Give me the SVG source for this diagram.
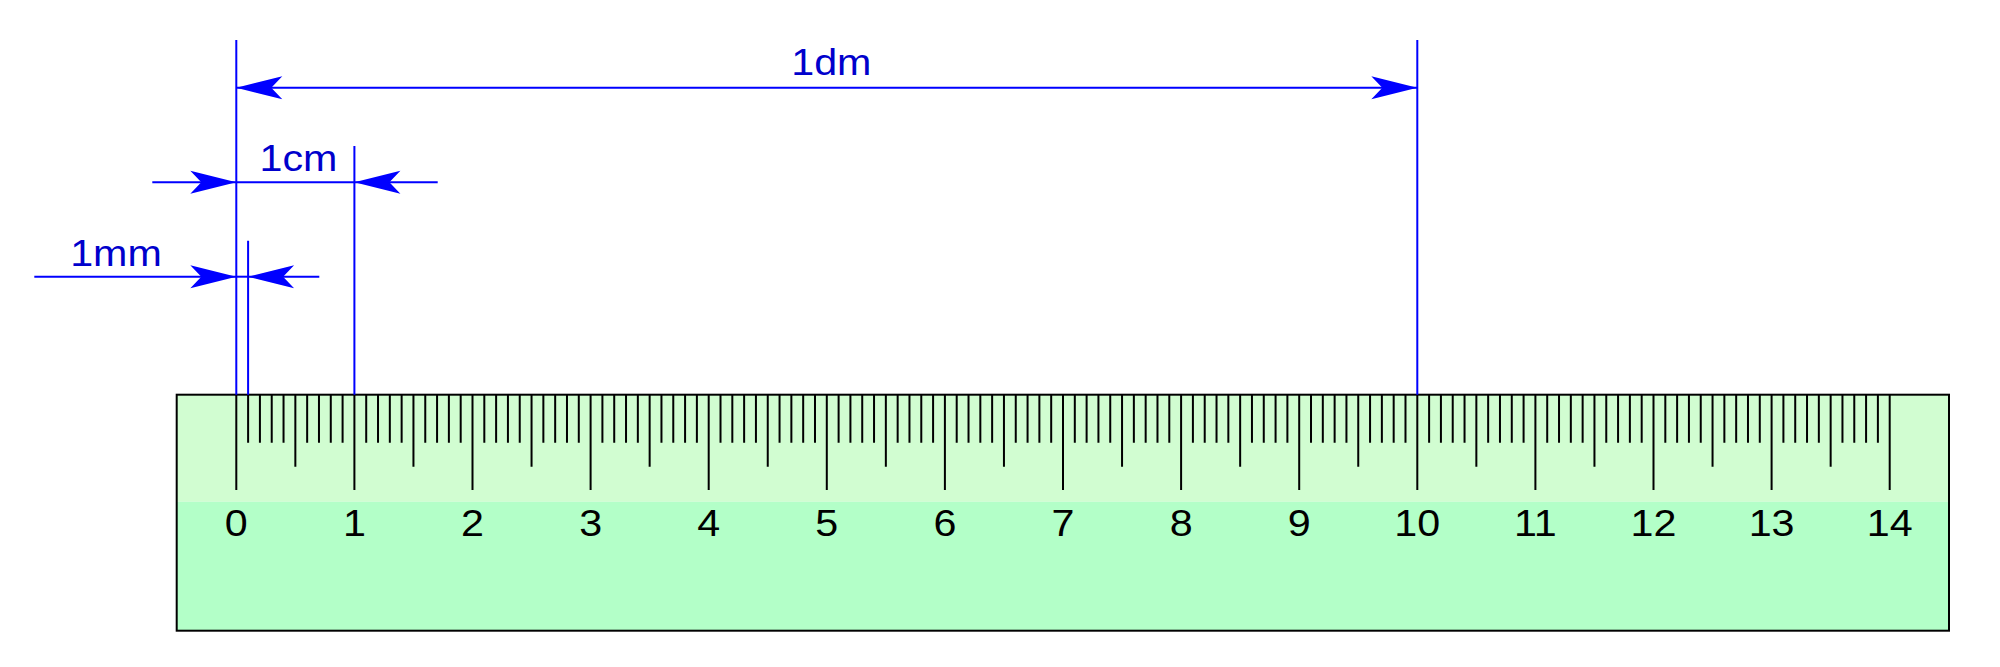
<svg xmlns="http://www.w3.org/2000/svg" xmlns:xlink="http://www.w3.org/1999/xlink" width="2000" height="667" viewBox="0 0 2000 667">
  <style>
    .tick { stroke: #000; stroke-width: 2; fill: none; }
    .num { font-family: "Liberation Sans", Arial, sans-serif; font-size: 37.5px; fill: #000; text-anchor: middle; }
    .dimtext { font-family: "Liberation Sans", Arial, sans-serif; font-size: 37.5px; fill: #0000cc; text-anchor: middle; }
    .dim { stroke: #0000ff; stroke-width: 2; fill: none; }
    .arrow { stroke: #0000ff; stroke-width: 2; fill: none; marker-end: url(#ah); }
  </style>
  <defs>
    <marker id="ah" markerUnits="userSpaceOnUse" markerWidth="50" markerHeight="30" viewBox="-48 -15 50 30" refX="0" refY="0" orient="auto-start-reverse">
      <path d="M0,0 L-46,-11.5 L-35,0 L-46,11.5 Z" fill="#0000ff"/>
    </marker>
    <path id="cm" class="tick" d="M11.81 394.7V442.7M23.62 394.7V442.7M35.43 394.7V442.7M47.24 394.7V442.7M59.05 394.7V466.7M70.86 394.7V442.7M82.67 394.7V442.7M94.48 394.7V442.7M106.29 394.7V442.7"/>
  </defs>

  <g id="ruler">
    <rect x="176.7" y="394.7" width="1772.3" height="107" fill="#d1fdd1"/>
    <rect x="176.7" y="501.7" width="1772.3" height="129" fill="#b3ffc8"/>
    <rect x="176.7" y="394.7" width="1772.3" height="236" fill="none" stroke="#000" stroke-width="2"/>
    <g id="ticks">
      <path class="tick" d="M236.3 394.7V490M354.4 394.7V490M472.5 394.7V490M590.6 394.7V490M708.7 394.7V490M826.8 394.7V490M944.9 394.7V490M1063 394.7V490M1181.1 394.7V490M1299.2 394.7V490M1417.3 394.7V490M1535.4 394.7V490M1653.5 394.7V490M1771.6 394.7V490M1889.7 394.7V490"/>
      <use xlink:href="#cm" x="236.3"/>
      <use xlink:href="#cm" x="354.4"/>
      <use xlink:href="#cm" x="472.5"/>
      <use xlink:href="#cm" x="590.6"/>
      <use xlink:href="#cm" x="708.7"/>
      <use xlink:href="#cm" x="826.8"/>
      <use xlink:href="#cm" x="944.9"/>
      <use xlink:href="#cm" x="1063"/>
      <use xlink:href="#cm" x="1181.1"/>
      <use xlink:href="#cm" x="1299.2"/>
      <use xlink:href="#cm" x="1417.3"/>
      <use xlink:href="#cm" x="1535.4"/>
      <use xlink:href="#cm" x="1653.5"/>
      <use xlink:href="#cm" x="1771.6"/>
    </g>
    <g id="numbers">
      <text class="num" transform="translate(236.3,536) scale(1.1,1)">0</text>
      <text class="num" transform="translate(354.4,536) scale(1.1,1)">1</text>
      <text class="num" transform="translate(472.5,536) scale(1.1,1)">2</text>
      <text class="num" transform="translate(590.6,536) scale(1.1,1)">3</text>
      <text class="num" transform="translate(708.7,536) scale(1.1,1)">4</text>
      <text class="num" transform="translate(826.8,536) scale(1.1,1)">5</text>
      <text class="num" transform="translate(944.9,536) scale(1.1,1)">6</text>
      <text class="num" transform="translate(1063,536) scale(1.1,1)">7</text>
      <text class="num" transform="translate(1181.1,536) scale(1.1,1)">8</text>
      <text class="num" transform="translate(1299.2,536) scale(1.1,1)">9</text>
      <text class="num" transform="translate(1417.3,536) scale(1.1,1)">10</text>
      <text class="num" transform="translate(1535.4,536) scale(1.1,1)">11</text>
      <text class="num" transform="translate(1653.5,536) scale(1.1,1)">12</text>
      <text class="num" transform="translate(1771.6,536) scale(1.1,1)">13</text>
      <text class="num" transform="translate(1889.7,536) scale(1.1,1)">14</text>
    </g>
  </g>

  <g id="connectors">
    <!-- extension lines -->
    <path class="dim" d="M236.3 40V394.7M1417.3 40V394.7M354.4 146V394.7M248.1 240.7V394.7"/>
    <!-- 1dm -->
    <line class="dim" x1="236.3" y1="87.7" x2="1417.3" y2="87.7" marker-start="url(#ah)" marker-end="url(#ah)"/>
    <!-- 1cm -->
    <line class="arrow" x1="152.3" y1="182.3" x2="236.3" y2="182.3"/>
    <line class="dim" x1="236.3" y1="182.3" x2="354.4" y2="182.3"/>
    <line class="arrow" x1="437.7" y1="182.3" x2="354.4" y2="182.3"/>
    <!-- 1mm -->
    <line class="arrow" x1="34.3" y1="276.7" x2="236.3" y2="276.7"/>
    <line class="dim" x1="236.3" y1="276.7" x2="248.1" y2="276.7"/>
    <line class="arrow" x1="319.3" y1="276.7" x2="248.1" y2="276.7"/>
  </g>

  <g id="label-1dm">
    <text class="dimtext" transform="translate(831.3,75) scale(1.1,1)">1dm</text>
  </g>
  <g id="label-1cm">
    <text class="dimtext" transform="translate(298.5,171.3) scale(1.1,1)">1cm</text>
  </g>
  <g id="label-1mm">
    <text class="dimtext" transform="translate(116,266) scale(1.1,1)">1mm</text>
  </g>
</svg>
